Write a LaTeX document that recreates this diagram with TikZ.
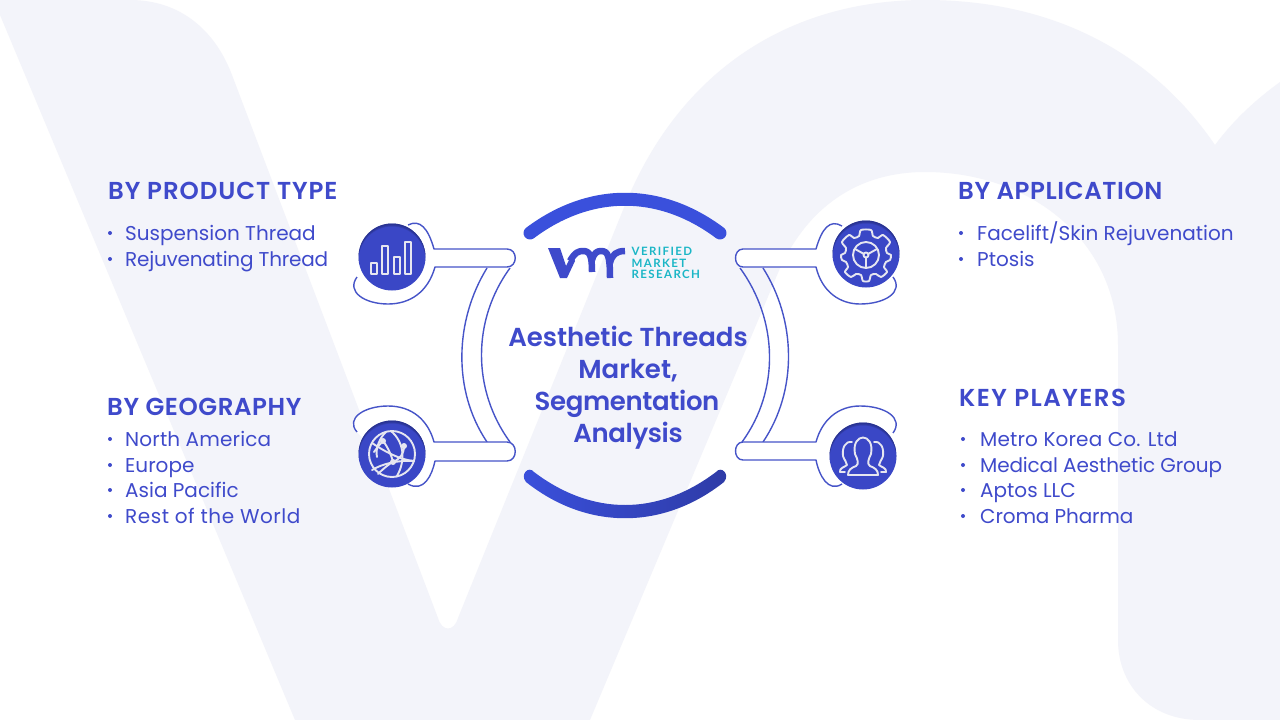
\documentclass[tikz,border=0pt]{standalone}
\usepackage{fontspec}
\setmainfont{Poppins}
\newfontfamily\headfont[LetterSpace=2.4]{Poppins SemiBold}
\newfontfamily\titlefont{Poppins SemiBold}
\newfontfamily\logofont[LetterSpace=12]{Lato}
\newcommand{\wider}{\addfontfeature{LetterSpace=2.6}}
\newcommand{\tighter}{\addfontfeature{LetterSpace=-1.1}}
\newcommand{\slightwide}{\addfontfeature{LetterSpace=.8}}
\newcommand{\slighttight}{\addfontfeature{LetterSpace=-.7}}
\definecolor{wm}{HTML}{F3F4FA}
\definecolor{ink}{HTML}{3F4ACB}
\definecolor{holdc}{HTML}{4654C8}
\definecolor{disc}{HTML}{3A47C6}
\definecolor{discd}{HTML}{1F2770}
\definecolor{arcb}{HTML}{3A50DC}
\definecolor{arcd}{HTML}{2E3BA6}
\definecolor{teal}{HTML}{1BB6C6}
\definecolor{ic}{HTML}{E6E6F0}
\tikzset{
 x=1pt,y=-1pt,
 headt/.style={anchor=base west,inner sep=0pt,text=ink,font=\fontsize{24.5}{24.5}\headfont},
 itemt/.style={anchor=base west,inner sep=0pt,text=ink,font=\fontsize{20}{20}\selectfont},
 bul/.style={circle,fill=ink,inner sep=0pt,minimum size=4pt},
 titlet/.style={anchor=base,inner sep=0pt,text=ink,font=\fontsize{26}{26}\titlefont},
 holder/.style={draw=holdc,line width=1.4pt,fill=white,line join=round},
 thincurve/.style={draw=holdc,line width=1.4pt},
 discn/.style={circle,minimum size=67pt,inner sep=0pt,draw=none,fill=disc},
 iconline/.style={draw=ic,line width=1.9pt,line join=round,line cap=round},
 bigarc/.style={draw=arcb,line width=13pt,line cap=round},
 logomark/.style={draw=ink,line width=6.5pt,line join=round},
 logot/.style={anchor=base west,inner sep=0pt,text=teal,font=\fontsize{11.5}{11.5}\logofont\bfseries},
}
\begin{document}
\begin{tikzpicture}
\useasboundingbox (0,0) rectangle (1280,720);
\fill[white] (0,0) rectangle (1280,720);
% watermark
\fill[wm] (0,0) -- (130,0) .. controls (180,0) and (215,30) .. (232,75)
 -- (438,618) .. controls (442,632) and (454,632) .. (458,618)
 -- (625,205) .. controls (680,70) and (790,0) .. (925,0)
 .. controls (1050,0) and (1150,50) .. (1215,145)
 .. controls (1235,118) and (1258,98) .. (1280,82)
 -- (1280,720) -- (1200,720) .. controls (1150,720) and (1118,685) .. (1118,640)
 -- (1118,345) .. controls (1118,240) and (1030,172) .. (925,172)
 .. controls (860,172) and (805,205) .. (775,280)
 -- (590,720) -- (295,720) -- (0,15) -- cycle;
% big arcs
\draw[bigarc] (530,233) .. controls (590,188) and (660,188) .. (720,233);
\shade[left color=arcb,right color=arcd] (526,482) .. controls (587,530.3) and (663,530.3) .. (724,482)
 .. controls (730.5,474) and (721,465.5) .. (716,472)
 .. controls (658,516) and (592,516) .. (534,472)
 .. controls (529,465.5) and (519.5,474) .. (526,482) -- cycle;
% inner curves
\draw[thincurve] (487,268) .. controls (455,320) and (452,390) .. (487,442);
\draw[thincurve] (510,268) .. controls (472,320) and (472,390) .. (510,442);
\draw[thincurve] (740,268) .. controls (778,320) and (780,390) .. (742,442);
\draw[thincurve] (763,268) .. controls (796,320) and (798,390) .. (763,442);
% holders
\draw[holder] (408,225) .. controls (420,219) and (428,228) .. (434,249) -- (507,249)
 .. controls (518,249) and (518,267) .. (507,267) -- (435,267)
 .. controls (428,292) and (410,304) .. (388,304)
 .. controls (365,304) and (346,292) .. (357,277);
\draw[holder] (357,432) .. controls (345,418) and (365,406) .. (388,406)
 .. controls (412,406) and (428,420) .. (434,442) -- (507,442)
 .. controls (518,442) and (518,461) .. (507,461) -- (435,461)
 .. controls (432,475) and (424,493) .. (408,484);
\draw[holder] (842,226) .. controls (830,219) and (822,228) .. (816,249) -- (743,249)
 .. controls (733,249) and (733,267) .. (743,267) -- (816,267)
 .. controls (822,292) and (840,304) .. (860,304)
 .. controls (885,304) and (904,292) .. (893,277);
\draw[holder] (893,433) .. controls (904,418) and (885,406) .. (860,406)
 .. controls (838,406) and (822,420) .. (816,442) -- (743,442)
 .. controls (733,442) and (733,460) .. (743,460) -- (816,460)
 .. controls (819,475) and (828,493) .. (842,484);
% discs
\foreach \n/\cx/\cy in {dtl/392/257,dbl/392/454,dtr/866/254,dbr/863/456}{
 \node[discn] (\n) at (\cx,\cy) {};
 \begin{scope}
  \clip (\cx,\cy) circle (33.5);
  \foreach \off in {1,2,3}{
   \fill[discd,opacity=.28,even odd rule] (\cx,\cy) circle (34) (\cx,\cy+\off) circle (33.5);
  }
 \end{scope}
}
% icon bars
\draw[iconline] (371,274) rectangle (377,263);
\draw[iconline] (382,274) rectangle (388,246);
\draw[iconline] (394,274) rectangle (400,257);
\draw[iconline] (405,274) rectangle (411,242);
% icon gear
\begin{scope}[shift={(866,254)}]
 \draw[iconline] plot[smooth cycle,tension=.45] coordinates {
  (-5,-24)(5,-24)(7,-18)(12,-16)(17,-19)(24,-12)(20,-6)(21,-1)(25,1)(24,6)(20,8)(18,13)(21,18)(15,23)(10,20)(5,21)(3,27)(-3,27)(-5,21)(-10,20)(-15,23)(-21,18)(-18,13)(-20,8)(-24,6)(-25,1)(-21,-1)(-20,-6)(-24,-12)(-17,-19)(-12,-16)(-7,-18)};
 \draw[iconline] (0,1) circle (13);
 \draw[iconline] (0,1) circle (2.5);
 \draw[iconline] (-2,0) -- (-11,-5);
 \draw[iconline] (2,0) -- (11,-5);
 \draw[iconline] (0,4) -- (0,13);
\end{scope}
% icon globe
\begin{scope}[shift={(392,454)}]
 \draw[iconline] (0,0) circle (23);
 \draw[iconline] (-20,-11) .. controls (-8,-3) and (8,6) .. (22,7);
 \draw[iconline] (-20,16) .. controls (-10,10) and (5,6) .. (22,7);
 \draw[iconline] (-18,-2) .. controls (-13,-9) and (-10,-12) .. (-9,-13);
 \draw[iconline] (-9,-13) .. controls (-4,-7) and (0,3) .. (1,8);
 \draw[iconline] (-1,-23) .. controls (12,-12) and (14,6) .. (5,22);
 \draw[iconline] (-6,-22) .. controls (-12,-17) and (-17,-5) .. (-15,3);
 \draw[iconline] (12,-8) .. controls (12,0) and (8,5) .. (1,8);
 \draw[iconline] (-14,20) .. controls (-8,14) and (-3,10) .. (1,8);
 \fill[ic] (-9,-13) circle (3) (12,-8) circle (3) (1,8) circle (3);
\end{scope}
% icon people
\begin{scope}[shift={(863,456)}]
 \draw[iconline] (-15,19) -- (15,19) .. controls (15,14) and (12,12) .. (7,10)
  .. controls (4,8) and (5,4) .. (8,-2) .. controls (12,-24) and (-12,-24) .. (-8,-2)
  .. controls (-5,4) and (-4,8) .. (-7,10) .. controls (-12,12) and (-15,14) .. (-15,19) -- cycle;
 \draw[iconline] (-11,-14) .. controls (-18,-15) and (-21,-8) .. (-20,0) .. controls (-19,4) and (-16,6) .. (-16,9) .. controls (-18,11) and (-24,12) .. (-23,16) -- (-18,16);
 \draw[iconline] (11,-14) .. controls (18,-15) and (21,-8) .. (20,0) .. controls (19,4) and (16,6) .. (16,9) .. controls (18,11) and (24,12) .. (23,16) -- (18,16);
\end{scope}
% logo
\fill[ink] (548,248) -- (560,248) -- (566,266) -- (572,254) -- (575,261) -- (567,278) -- (560,278) -- cycle;
\draw[logomark] (570,261) .. controls (575,252) and (579,251) .. (583,251)
 .. controls (590,251) and (592,256) .. (592,272);
\draw[logomark] (592,260) .. controls (594,253) and (597,251) .. (601,251)
 .. controls (608,251) and (610,256) .. (610,278);
\draw[logomark] (610,263) .. controls (612,254) and (617,251) .. (625,251);
\node[logot] (lg1) at (631.5,255.5) {VERIFIED};
\node[logot] (lg2) at (631.5,267) {MARKET};
\node[logot] (lg3) at (631.5,278.5) {RESEARCH};
% title
\node[titlet] (t1) at (628,346) {Aesthetic Threads};
\node[titlet] (t2) at (628,378) {Market,};
\node[titlet] (t3) at (627,410) {\addfontfeature{LetterSpace=-1.4}Segmentation};
\node[titlet] (t4) at (628,442) {\addfontfeature{LetterSpace=-1.4}Analysis};
% headings
\node[headt] (h1) at (108,199) {\addfontfeature{LetterSpace=3.8}BY PRODUCT TYPE};
\node[headt] (h2) at (107,415) {BY GEOGRAPHY};
\node[headt] (h3) at (958,199) {BY APPLICATION};
\node[headt] (h4) at (959,406) {\addfontfeature{LetterSpace=6}KEY PLAYERS};
% items
\foreach \nm/\bx/\tx/\yy/\lab in {
 a1/110/125/240/Suspension Thread,a2/110/125/266/{\tighter Rejuvenating Thread},
 b1/110/125/446/{\slightwide North America},b2/110/125/472/Europe,b3/110/125/497/Asia Pacific,b4/110/125/523/{\wider Rest of the World},
 c1/961/977/240/Facelift\slash Skin Rejuvenation,c2/961/977/266/Ptosis,
 d1/963/980/446/{\slightwide Metro Korea Co. Ltd},d2/963/980/472/{\slighttight Medical Aesthetic Group},d3/963/980/497/Aptos LLC,d4/963/980/523/{\slighttight Croma Pharma}}{
 \node[bul] (\nm b) at (\bx,\yy-7) {};
 \node[itemt] (\nm) at (\tx,\yy) {\lab};
}
\end{tikzpicture}
\end{document}
